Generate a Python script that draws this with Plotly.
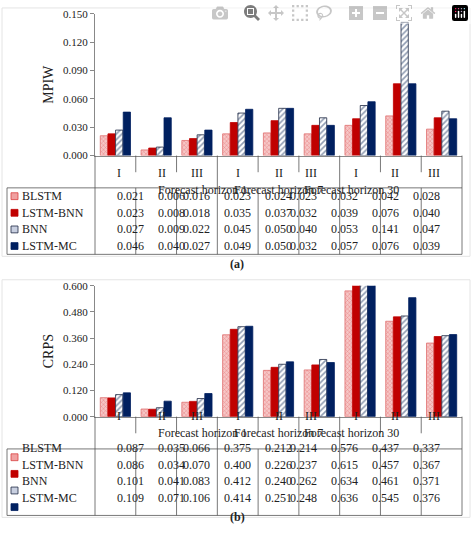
import plotly.graph_objects as go

W, H = 474, 540

horizons = ["Forecast horizon 1", "Forecast horizon 7", "Forecast horizon 30"]
classes = ["I", "II", "III"]
models = ["BLSTM", "LSTM-BNN", "BNN", "LSTM-MC"]

mpiw = {
    "BLSTM":    [0.021, 0.006, 0.016, 0.023, 0.024, 0.023, 0.032, 0.042, 0.028],
    "LSTM-BNN": [0.023, 0.008, 0.018, 0.035, 0.037, 0.032, 0.039, 0.076, 0.040],
    "BNN":      [0.027, 0.009, 0.022, 0.045, 0.050, 0.040, 0.053, 0.141, 0.047],
    "LSTM-MC":  [0.046, 0.040, 0.027, 0.049, 0.050, 0.032, 0.057, 0.076, 0.039],
}
crps = {
    "BLSTM":    [0.087, 0.035, 0.066, 0.375, 0.212, 0.214, 0.576, 0.437, 0.337],
    "LSTM-BNN": [0.086, 0.034, 0.070, 0.400, 0.226, 0.237, 0.615, 0.457, 0.367],
    "BNN":      [0.101, 0.041, 0.083, 0.412, 0.240, 0.262, 0.634, 0.461, 0.371],
    "LSTM-MC":  [0.109, 0.071, 0.106, 0.414, 0.251, 0.248, 0.636, 0.545, 0.376],
}

styles = {
    "BLSTM": dict(color="#f6c6c6", line=dict(color="#e07070", width=0.8),
                  pattern=dict(shape="x", fgcolor="#d94040", size=3, solidity=0.3)),
    "LSTM-BNN": dict(color="#c00000", line=dict(color="#c00000", width=0.8)),
    "BNN": dict(color="white", line=dict(color="#1f2a44", width=0.8),
                pattern=dict(shape="/", fgcolor="#1f3864", size=4, solidity=0.4)),
    "LSTM-MC": dict(color="#002060", line=dict(color="#002060", width=0.8)),
}
sym_fill = {"BLSTM": "#f0a0a0", "LSTM-BNN": "#c00000", "BNN": "#c8cfe0", "LSTM-MC": "#002060"}
sym_line = {"BLSTM": "#d94040", "LSTM-BNN": "#c00000", "BNN": "#1f2a44", "LSTM-MC": "#002060"}

FONT = "Liberation Serif"
X0, X1 = 95, 462  # plot area in px
TL = 7            # table left border
CW = (X1 - X0) / 9


def px(x):
    return x / W


def py(y):
    return 1 - y / H


fig = go.Figure()
shapes, annos = [], []


def panel(data, axn, y_top, y_zero, ymax, dtick, title, tbl, label, label_y):
    xa = "x" if axn == 1 else "x%d" % axn
    ya = "y" if axn == 1 else "y%d" % axn
    for m in models:
        fig.add_trace(go.Bar(x=list(range(9)), y=data[m], name=m, marker=styles[m],
                             xaxis=xa, yaxis=ya, showlegend=False))
    key = "" if axn == 1 else str(axn)
    fig.layout["xaxis" + key] = dict(domain=[px(X0), px(X1)], range=[-0.5, 8.5], anchor=ya,
                                     showticklabels=False, showline=True, linecolor="#888",
                                     ticks="", showgrid=False, zeroline=False)
    fig.layout["yaxis" + key] = dict(domain=[py(y_zero), py(y_top)], range=[0, ymax], dtick=dtick,
                                     tickformat=".3f", anchor=xa, showline=True, linecolor="#888",
                                     ticks="outside", ticklen=4, tickcolor="#888", showgrid=False,
                                     zeroline=False, title=dict(text=title, standoff=6),
                                     tickfont=dict(size=11))
    r_cls, r_hor, bot = tbl
    lc = dict(color="#555", width=0.8)
    for i in range(9):
        cx = X0 + CW * (i + 0.5)
        annos.append(dict(x=px(cx), y=py((y_zero + r_cls) / 2), text=classes[i % 3],
                          showarrow=False, xref="paper", yref="paper"))
    for j in range(3):
        cx = X0 + CW * (3 * j + 1.5)
        annos.append(dict(x=px(cx), y=py((r_cls + r_hor) / 2 + 1), text=horizons[j],
                          showarrow=False, xref="paper", yref="paper"))
    for i in range(1, 9):
        xx = X0 + CW * i
        y_end = bot if i % 3 == 0 else r_cls
        shapes.append(dict(type="line", xref="paper", yref="paper", x0=px(xx), x1=px(xx),
                           y0=py(y_zero), y1=py(y_end), line=lc))
        if i % 3:
            shapes.append(dict(type="line", xref="paper", yref="paper", x0=px(xx), x1=px(xx),
                               y0=py(r_hor), y1=py(bot), line=lc))
    for xx in (X0, X1):
        shapes.append(dict(type="line", xref="paper", yref="paper", x0=px(xx), x1=px(xx),
                           y0=py(y_zero), y1=py(bot), line=lc))
    shapes.append(dict(type="line", xref="paper", yref="paper", x0=px(TL), x1=px(TL),
                       y0=py(r_hor), y1=py(bot), line=lc))
    for yy in (r_hor, bot):
        shapes.append(dict(type="line", xref="paper", yref="paper", x0=px(TL), x1=px(X1),
                           y0=py(yy), y1=py(yy), line=lc))
    rh = (bot - r_hor) / 4
    for k, m in enumerate(models):
        cy = r_hor + rh * (k + 0.5)
        shapes.append(dict(type="rect", xref="paper", yref="paper", x0=px(TL + 4), x1=px(TL + 11),
                           y0=py(cy + 3.5), y1=py(cy - 3.5), fillcolor=sym_fill[m],
                           line=dict(color=sym_line[m], width=0.8)))
        annos.append(dict(x=px(TL + 13), y=py(cy), text=m, xanchor="left", showarrow=False,
                          xref="paper", yref="paper"))
        for i in range(9):
            annos.append(dict(x=px(X0 + CW * (i + 0.5)), y=py(cy), text="%.3f" % data[m][i],
                              showarrow=False, xref="paper", yref="paper"))
    annos.append(dict(x=px(237), y=py(label_y), text="<b>" + label + "</b>", showarrow=False,
                      xref="paper", yref="paper"))
    shapes.append(dict(type="rect", xref="paper", yref="paper", x0=px(2), x1=px(470),
                       y0=py(y_top - 6), y1=py(bot + 2), line=dict(color="#e4e4e4", width=1)))


panel(mpiw, 1, 8, 153, 0.150, 0.030, "MPIW", (170, 186, 254), "(a)", 264)
panel(crps, 2, 286, 420, 0.600, 0.120, "CRPS", (437, 453, 521), "(b)", 532)

fig.update_layout(width=W, height=H, margin=dict(l=0, r=0, t=0, b=0, pad=0), barmode="group",
                  bargap=0.25, bargroupgap=0.05, plot_bgcolor="white", paper_bgcolor="white",
                  font=dict(family=FONT, size=12, color="#222"), shapes=shapes, annotations=annos)
fig.write_html("out.html", config={"responsive": False},
               post_script="document.body.style.margin='0';document.body.style.overflow='hidden';")
